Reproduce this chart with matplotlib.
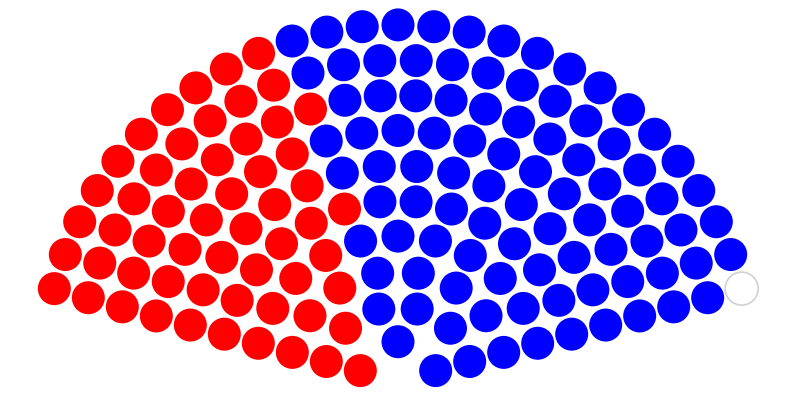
import numpy as np
import matplotlib
matplotlib.use('Agg')
import matplotlib.pyplot as plt
from matplotlib.patches import Circle

# seats per party, filled from left to right
parties = ['Red', 'Blue', 'Vacant']
seats = [57, 92, 1]
colors = ['#ff0000', '#0000ff', '#ffffff']
edges = ['none', 'none', '#d0d0d0']

n_rows = 10
start_angle = 165.0
end_angle = 15.0


def seat_layout(total, n_rows, r_inner, r_step):
    radii = r_inner + r_step * np.arange(n_rows)
    per_row = np.round(total * radii / radii.sum()).astype(int)
    per_row[-1] += total - per_row.sum()
    slots = []
    for row, (r, n) in enumerate(zip(radii, per_row)):
        for k in range(n):
            frac = k / (n - 1) if n > 1 else 0.5
            ang = start_angle - (start_angle - end_angle) * frac
            slots.append((round(ang, 6), row, r))
    # sweep by angle, inner rows first on ties
    slots.sort(key=lambda s: (-s[0], s[1]))
    return slots


def plot_parliament(out_file):
    fig = plt.figure(figsize=(7.96, 4.08), dpi=100)
    ax = fig.add_axes([0, 0, 1, 1])
    ax.set_xlim(0, 796)
    ax.set_ylim(408, 0)
    ax.set_aspect('equal')
    ax.axis('off')

    cx, cy = 398, 380.7
    slots = seat_layout(sum(seats), n_rows, 39.0, 35.2)
    owner = np.repeat(np.arange(len(parties)), seats)
    for (ang, row, r), p in zip(slots, owner):
        a = np.radians(ang)
        x = cx + r * np.cos(a)
        y = cy - r * np.sin(a)
        ax.add_patch(Circle((x, y), 16.5, facecolor=colors[p],
                            edgecolor=edges[p], linewidth=1.2))

    plt.savefig(out_file, dpi=100)
    plt.close()


plot_parliament('out.png')
